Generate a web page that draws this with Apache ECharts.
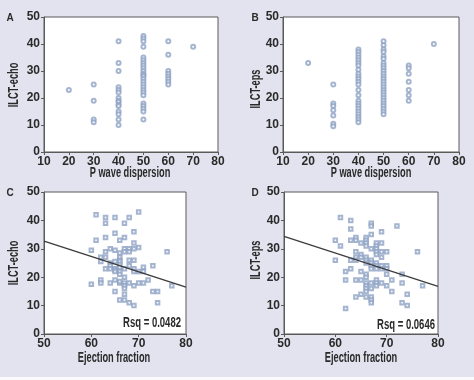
<!DOCTYPE html>
<html>
<head>
<meta charset="utf-8">
<script src="https://cdn.jsdelivr.net/npm/echarts@6/dist/echarts.min.js"></script>
<style>
  html, body { margin: 0; padding: 0; background: #e2e3ee; }
  #chart { width: 474px; height: 380px; }
</style>
</head>
<body>
<div id="chart"></div>
<script>
const dispValues = [20, 30, 40, 50, 60, 70]
const echoByDisp = [
  [23],
  [25, 19, 12, 11],
  [41, 33, 30, 24, 23, 22, 20, 19, 18.5, 17.5, 17, 15, 14, 12, 10],
  [43, 42, 41, 39, 35, 34, 33, 32, 31, 30, 29, 28.5, 28, 27, 26, 25, 24, 23, 22, 21, 18, 17, 16, 15, 12],
  [41, 36, 30, 29, 28, 27, 26, 25],
  [39],
]
const epsByDisp = [
  [33],
  [25, 18, 17, 15.5, 13.5, 10.5, 9.5],
  [38, 37, 36, 35, 34, 33, 32, 30.5, 29, 28, 27, 26, 25, 23, 21, 19, 18, 17, 16, 15, 14, 13, 12, 11],
  [41, 39.5, 38, 37, 35.5, 34.5, 33, 32, 31, 30, 29, 28, 27, 26, 25, 24, 23, 22, 21, 20, 19, 18, 17, 16, 15, 14],
  [32, 31, 29, 26, 23, 21, 19],
  [40],
]

// ejection fraction vs ILCT-echo (panel C)
const efEcho = [
  [61, 42], [63, 41], [65, 41], [68, 41], [70, 43], [63, 39], [67, 39], [61, 33], [63, 34], [65, 35.5],
  [66, 33], [67, 34], [69, 36], [69, 32], [70, 30.5], [60, 29.5], [63, 29], [64, 30], [65, 29.5], [66, 28.5],
  [67, 30], [68, 30], [67, 29], [68, 29], [69, 30], [76, 29], [62, 27], [62, 25.5], [63, 27], [64, 25],
  [66, 27], [66, 26], [66, 25.5], [66, 24.5], [66, 23.5], [65, 25.5], [64, 24], [64, 23], [65, 23], [65, 22.5],
  [68, 26], [69, 26], [68, 24], [63, 23], [67, 23], [69, 23], [69, 22], [70, 22], [71, 23.5], [71, 22],
  [73, 24], [66, 22], [66, 21], [65, 22], [67, 20], [62, 19], [62, 18], [60, 17.5], [64, 18], [65, 19],
  [66, 18], [66, 18.5], [67, 18], [67, 17], [67, 16], [68, 18], [69, 17], [70, 18], [71, 18], [72, 19],
  [65, 15], [67, 14], [73, 15], [74, 15], [77, 17], [66, 12], [67, 12], [68, 11], [69, 10], [74, 11],
]
// ejection fraction vs ILCT-eps (panel D)
const efEps = [
  [61, 41], [63, 40], [63, 37], [67, 39], [67, 38], [72, 38], [69, 36], [67, 35], [60, 33], [61, 31],
  [63, 33], [64, 34], [64, 33], [65, 32], [66, 34], [66, 33], [66, 32], [66, 31], [67, 30], [68, 32],
  [68, 31], [68, 30], [68, 29], [68, 28], [69, 32], [69, 29], [69, 27], [70, 29], [76, 29], [64, 29],
  [65, 28], [65, 27], [64, 27], [64, 26], [63, 26], [60, 26], [66, 27], [66, 26], [66, 25], [67, 26],
  [67, 25], [67, 24], [67, 23], [68, 25], [68, 24], [68, 23], [69, 24], [69, 23], [70, 24], [70, 23],
  [62, 22], [63, 23], [65, 22], [66, 21], [66, 20], [70, 21], [73, 21], [62, 19], [64, 19], [65, 19],
  [66, 18], [66, 17], [66, 16], [66, 15], [67, 18], [67, 16], [68, 19], [68, 18], [68, 17], [69, 18],
  [70, 17], [71, 19], [73, 18], [77, 17], [71, 15], [64, 13], [65, 14], [66, 13], [67, 13], [67, 12],
  [67, 11], [73, 11], [74, 14], [74, 10], [62, 9],
]

// linear fits (endpoints at x = 50 and 80)
const fitEcho = [[50, 32.7], [80, 16.5]]
const fitEps = [[50, 34.4], [80, 16.8]]
const rsqLabels = ['Rsq = 0.0482', 'Rsq = 0.0646']
const panelLetters = ['A', 'B', 'C', 'D']
const xTitles = ['P wave dispersion', 'P wave dispersion', 'Ejection fraction', 'Ejection fraction']
const yTitles = ['ILCT-echo', 'ILCT-eps', 'ILCT-echo', 'ILCT-eps']

const FONT = '"Liberation Sans", Arial, sans-serif'
const TEXT = '#2a2a2a'
const AXIS = '#5a5a5a'
const MARK = '#8ea2c4'
const SQUEEZE = 0.66 // the original uses a condensed face

const grids = [
  { left: 44, top: 17, width: 174, height: 135 },
  { left: 283, top: 17, width: 176, height: 135 },
  { left: 44, top: 192, width: 142, height: 142 },
  { left: 284, top: 192, width: 154, height: 142 },
].map((g) => ({
  ...g,
  show: true,
  backgroundColor: '#fff',
  borderColor: AXIS,
  borderWidth: 1,
}))

const tickLabel = { margin: 4, fontFamily: FONT, fontSize: 12, color: TEXT, fontWeight: 'bold' }

const xAxisFor = (i, min, max) => ({
  gridIndex: i,
  type: 'value',
  min,
  max,
  interval: 10,
  axisLine: { show: true, onZero: false, lineStyle: { color: AXIS } },
  axisTick: { show: true, length: 3, lineStyle: { color: AXIS } },
  axisLabel: tickLabel,
  splitLine: { show: false },
})

const yAxisFor = (i) => ({
  gridIndex: i,
  type: 'value',
  min: 0,
  max: 50,
  interval: 10,
  axisLine: { show: true, onZero: false, lineStyle: { color: AXIS } },
  axisTick: { show: true, length: 3, lineStyle: { color: AXIS } },
  axisLabel: tickLabel,
  splitLine: { show: false },
})

const scatter = (i, data, symbol, size) => ({
  type: 'scatter',
  xAxisIndex: i,
  yAxisIndex: i,
  symbol,
  symbolSize: size,
  itemStyle: { color: MARK, borderColor: MARK, borderWidth: 1 },
  silent: true,
  data,
})

const fitLine = (i, data) => ({
  type: 'line',
  xAxisIndex: i,
  yAxisIndex: i,
  showSymbol: false,
  symbol: 'none',
  lineStyle: { color: '#3c3c3c', width: 1.3 },
  silent: true,
  data,
})

const label = (text, x, y, opts = {}) => ({
  type: 'text',
  x,
  y,
  rotation: opts.rotation || 0,
  scaleX: opts.scaleX || 1,
  style: {
    text,
    fontFamily: FONT,
    fontSize: opts.fontSize || 12,
    fontWeight: 'bold',
    fill: TEXT,
    align: opts.align || 'center',
    verticalAlign: 'middle',
  },
})

const letterPos = [[10, 18], [255, 18], [10, 193], [255, 193]]
const xTitlePos = [[130, 173], [371, 173], [114, 358], [361, 358]]
const yTitlePos = [[14, 85], [256, 89], [14, 263], [256, 260]]
const rsqPos = [[181, 323], [435, 325]]

const option = {
  animation: false,
  backgroundColor: '#e2e3ee',
  grid: grids,
  xAxis: [xAxisFor(0, 10, 80), xAxisFor(1, 10, 80), xAxisFor(2, 50, 80), xAxisFor(3, 50, 80)],
  yAxis: [yAxisFor(0), yAxisFor(1), yAxisFor(2), yAxisFor(3)],
  series: [
    scatter(0, dispValues.flatMap((x, i) => echoByDisp[i].map((y) => [x, y])), 'emptyCircle', 4),
    scatter(1, dispValues.flatMap((x, i) => epsByDisp[i].map((y) => [x, y])), 'emptyCircle', 4),
    scatter(2, efEcho, 'emptyRect', 3.5),
    scatter(3, efEps, 'emptyRect', 3.5),
    fitLine(2, fitEcho),
    fitLine(3, fitEps),
  ],
  graphic: [
    { type: 'rect', shape: { x: 0, y: 377, width: 474, height: 3 }, style: { fill: '#fbfbfd' } },
    ...panelLetters.map((t, i) => label(t, letterPos[i][0], letterPos[i][1], { fontSize: 10 })),
    ...xTitles.map((t, i) =>
      label(t, xTitlePos[i][0], xTitlePos[i][1], { fontSize: 14, scaleX: SQUEEZE }),
    ),
    ...yTitles.map((t, i) =>
      label(t, yTitlePos[i][0], yTitlePos[i][1], { fontSize: 14, scaleX: SQUEEZE, rotation: Math.PI / 2 }),
    ),
    ...rsqLabels.map((t, i) =>
      label(t, rsqPos[i][0], rsqPos[i][1], { fontSize: 14, scaleX: 0.68, align: 'right' }),
    ),
  ],
}

const chart = echarts.init(document.getElementById('chart'), null, { renderer: 'canvas' })
chart.setOption(option)
</script>
</body>
</html>
